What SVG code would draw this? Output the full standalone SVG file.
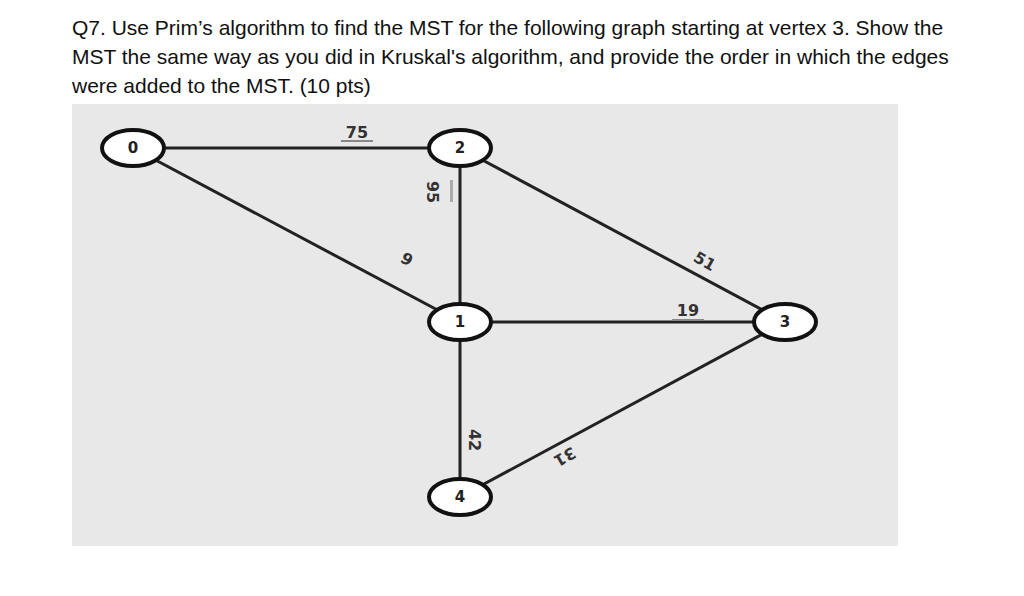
<svg xmlns="http://www.w3.org/2000/svg" width="1024" height="596" viewBox="0 0 1024 596">
<style>
.q{font-family:"Liberation Sans",Arial,sans-serif;font-size:21px;fill:#111}
.n ellipse{fill:#fff;stroke:#111;stroke-width:4}
.n text{font-family:"DejaVu Sans",sans-serif;font-weight:bold;font-size:15px;fill:#222;text-anchor:middle}
.e line{stroke:#222;stroke-width:3}
.w{font-family:"DejaVu Sans",sans-serif;font-weight:bold;font-size:16px;fill:#333;text-anchor:middle}
</style>
<rect width="1024" height="596" fill="#fff"/>
<text class="q" x="72" y="35">Q7. Use Prim’s algorithm to find the MST for the following graph starting at vertex 3. Show the</text>
<text class="q" x="72" y="64">MST the same way as you did in Kruskal's algorithm, and provide the order in which the edges</text>
<text class="q" x="72" y="93">were added to the MST. (10 pts)</text>
<rect x="72" y="104" width="826" height="442" fill="#e8e8e8"/>
<g id="edges" class="e">
<line x1="133" y1="148" x2="460" y2="148"/>
<line x1="133" y1="148" x2="460" y2="322"/>
<line x1="460" y1="148" x2="460" y2="497"/>
<line x1="460" y1="148" x2="785" y2="322"/>
<line x1="460" y1="322" x2="785" y2="322"/>
<line x1="460" y1="497" x2="785" y2="322"/>
</g>
<g id="labels">
<text class="w" x="357" y="138">75</text>
<line x1="341" y1="141" x2="373" y2="141" stroke="#888" stroke-width="2"/>
<text class="w" transform="translate(404,264) rotate(30)">9</text>
<text class="w" transform="translate(427,192) rotate(90)">95</text>
<rect x="450" y="180" width="3" height="22" fill="#aaa"/>
<text class="w" transform="translate(469,440) rotate(90)">42</text>
<text class="w" transform="translate(702,266) rotate(30)">51</text>
<text class="w" x="688" y="316">19</text>
<line x1="672" y1="320" x2="704" y2="320" stroke="#888" stroke-width="2"/>
<text class="w" transform="translate(562,452) rotate(150)">31</text>
</g>
<g id="n0" class="n"><ellipse cx="133" cy="148" rx="31" ry="18"/><text x="133" y="153">0</text></g>
<g id="n2" class="n"><ellipse cx="460" cy="148" rx="31" ry="18"/><text x="460" y="153">2</text></g>
<g id="n1" class="n"><ellipse cx="460" cy="322" rx="31" ry="18"/><text x="460" y="327">1</text></g>
<g id="n3" class="n"><ellipse cx="785" cy="322" rx="31" ry="18"/><text x="785" y="327">3</text></g>
<g id="n4" class="n"><ellipse cx="460" cy="497" rx="31" ry="18"/><text x="460" y="502">4</text></g>
</svg>
